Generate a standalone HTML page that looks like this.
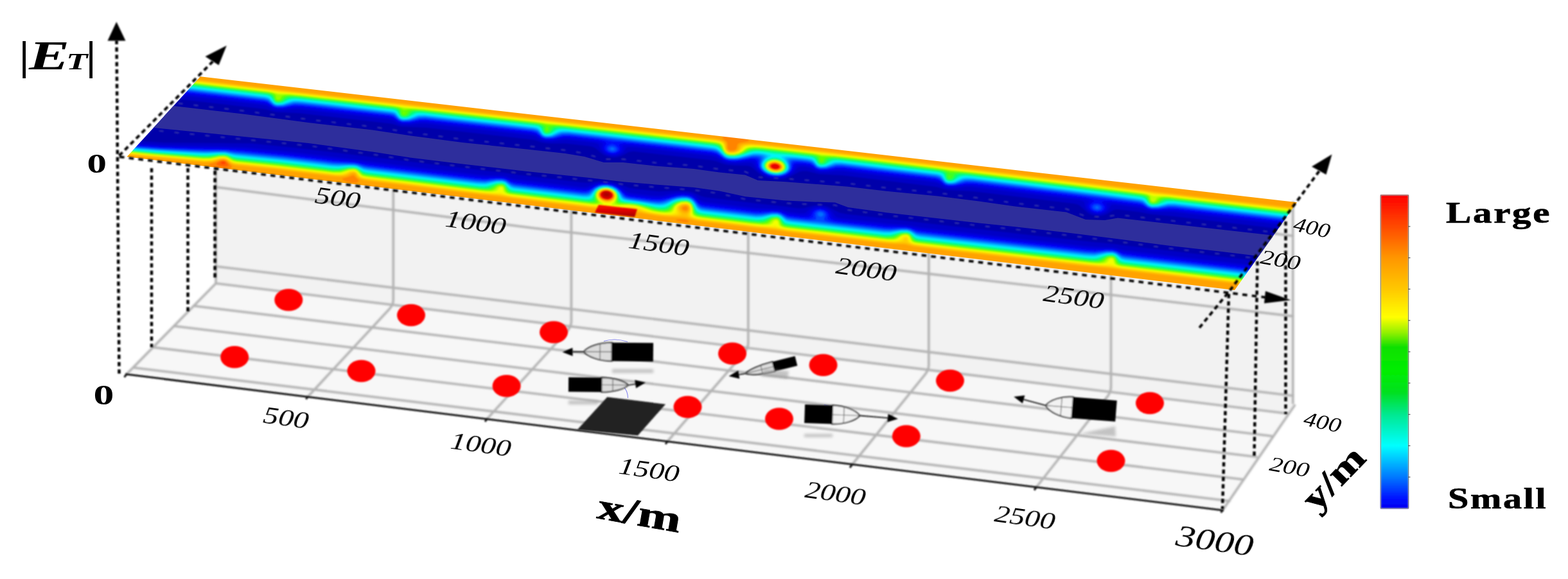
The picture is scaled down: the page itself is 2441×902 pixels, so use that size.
<!DOCTYPE html>
<html lang="en"><head><meta charset="utf-8"><title>ET field map</title>
<style>html,body{margin:0;padding:0;background:#fff;}body{width:2441px;height:902px;overflow:hidden;}svg{display:block;}
text{font-family:"Liberation Serif","DejaVu Serif",serif;fill:#000;}
.ti{font-style:italic;}.tb{font-weight:bold;}
</style></head><body>
<svg width="2441" height="902" viewBox="0 0 2441 902" role="img">
<defs>
<clipPath id="hmclip"><polygon points="312,119.2 2019,315.3 1922,452 197.5,244.3"/></clipPath>
<filter id="hmblur" x="-2%" y="-5%" width="104%" height="110%"><feGaussianBlur stdDeviation="1.3"/></filter>
<filter id="soft" x="-5%" y="-5%" width="110%" height="110%"><feGaussianBlur stdDeviation="0.8"/></filter>
<filter id="soft0" x="-5%" y="-5%" width="110%" height="110%"><feGaussianBlur stdDeviation="0.55"/></filter>
<filter id="soft1" x="-5%" y="-5%" width="110%" height="110%"><feGaussianBlur stdDeviation="1.4"/></filter>
<filter id="soft2" x="-20%" y="-50%" width="140%" height="200%"><feGaussianBlur stdDeviation="2"/></filter>
<linearGradient id="cbar" x1="0" y1="0" x2="0" y2="1">
<stop offset="0" stop-color="#ff0000"/>
<stop offset="0.1" stop-color="#ff4a00"/>
<stop offset="0.2" stop-color="#ff9600"/>
<stop offset="0.3" stop-color="#ffc800"/>
<stop offset="0.39" stop-color="#ffff00"/>
<stop offset="0.44" stop-color="#90f000"/>
<stop offset="0.485" stop-color="#10e000"/>
<stop offset="0.56" stop-color="#00ee00"/>
<stop offset="0.63" stop-color="#00e020"/>
<stop offset="0.7" stop-color="#00e890"/>
<stop offset="0.8" stop-color="#00ffff"/>
<stop offset="0.9" stop-color="#0078ff"/>
<stop offset="0.97" stop-color="#0010ff"/>
<stop offset="1" stop-color="#0000f0"/>
</linearGradient>
<linearGradient id="redg" x1="0" y1="0" x2="0" y2="1"><stop offset="0" stop-color="#ff1800"/><stop offset="0.45" stop-color="#e00000"/><stop offset="1" stop-color="#a00000"/></linearGradient>
</defs>
<rect width="2441" height="902" fill="#ffffff"/>
<g id="walls">
<polygon points="336,255 2013.5,314 2013.5,631 2004.9,644.2 336,441.5" fill="#f2f2f2"/>
<polygon points="196.5,583.6 336,441.5 2004.9,644.2 2015.4,631.4 1903.6,794.5" fill="#f7f7f7"/>
<g fill="none" stroke="#b2b2b2" stroke-width="3.6" stroke-linecap="round" stroke-linejoin="round" filter="url(#soft1)">
<path d="M336 291.5L460 307.5L832 355.5L1800 467.5L2012.8 492.6"/>
<path d="M336 415L2012.8 616.5"/>
<path d="M1985 364L2012.8 367.5"/>
<path d="M336 262L336 441.5"/>
<path d="M2012.8 315L2012.8 628"/>
<path d="M209.8 573L1914.1 780.5"/>
<path d="M239.8 541.3L1933.9 746.7"/>
<path d="M271.4 508L1956 711.8"/>
<path d="M301.3 476.5L1979.3 679.2"/>
<path d="M336.2 441.5L2004.9 644.2"/>
<path d="M196.5 583.6L336 441.5"/>
<path d="M1903.6 794.5L2015.4 631.4"/>
<path d="M479.3 617.9L605.6 482.1Q612.3 475 612.3 467L612.3 289.3"/>
<path d="M758 652.9L882.8 515.9Q889.4 508.7 889.4 500.7L889.4 323.4"/>
<path d="M1039 687.8L1158.5 549.5Q1164.8 542.2 1164.8 534.2L1164.8 357.2"/>
<path d="M1326 724.5L1439.9 583.7Q1445.9 576.3 1445.9 568.3L1445.9 391.7"/>
<path d="M1613 759.5L1723.7 618.2Q1729.5 610.8 1729.5 602.8L1729.5 426.5"/>
</g>
<g filter="url(#soft)"><path d="M196.5 583.1L1903.6 795" stroke="#1a1a1a" stroke-width="3" fill="none" stroke-linecap="round"/>
<path d="M196.5 583.6l-3 4" stroke="#1a1a1a" stroke-width="3" fill="none"/>
<path d="M479.3 617.9l-3 4" stroke="#1a1a1a" stroke-width="3" fill="none"/>
<path d="M758 652.9l-3 4" stroke="#1a1a1a" stroke-width="3" fill="none"/>
<path d="M1039 687.8l-3 4" stroke="#1a1a1a" stroke-width="3" fill="none"/>
<path d="M1326 724.5l-3 4" stroke="#1a1a1a" stroke-width="3" fill="none"/>
<path d="M1613 759.5l-3 4" stroke="#1a1a1a" stroke-width="3" fill="none"/>
<path d="M1903.6 794.5l-3 4" stroke="#1a1a1a" stroke-width="3" fill="none"/>
</g>
</g>
<g id="heatmap">
<g clip-path="url(#hmclip)"><g filter="url(#hmblur)">
<rect x="170" y="95" width="1870" height="385" fill="#0000aa"/>
<path fill="#0000c6" fill-rule="evenodd" d="M180 105L2030 105L2030 360.8L1827.6 337L1792 333.8L1774 330.3L1743 326.4L1738 326.3L1734 327.1L1723 333.2L1717 335.5L1712 336.3L1706 336.2L1699 334.4L1694 331.9L1680 319.6L1676 318.1L1671 317.1L1513 297.7L1475 295.9L1469 294.6L1460 291.5L1454 290.4L1311 272.9L1276 271.3L1256 266.6L1250 266.4L1245 267.2L1229 275.6L1221 278.4L1213 279.5L1205 279.2L1196 277.5L1187 273.8L1181 269.8L1171 260.9L1167 258.8L1162 258L1144 257.7L1132 256.7L1126 255.2L1114 250.8L1106 249.3L986 235.7L979 236.7L968 242.4L963 244.2L957 245.2L952 245.1L945 243.6L940 241.3L935.3 238L928 231.6L925 229.7L921 228.3L915 227.3L881 223.6L858 223.4L849 222.8L843 221.7L833 218.3L826 217.1L664 198.8L627 197.2L621 196.2L611 193.1L604 192L466 176.2L430 174.4L425 173.5L415 170.6L409 169.6L180 142.8ZM180 215.6L183 215.8L220 220.1L255 222.2L392 223.5L461 230.4L747 265.1L783 268.8L803 271.9L905 284.2L915 284.7L934 282.3L946 282.4L959 285.2L979 292.6L993 294.8L1025 298.2L1056 297.2L1071 298.1L1078 299.6L1092 305.8L1099 307.5L1180 317.2L1211 320.4L1242 324.6L1251 324.5L1263 321.2L1269 320L1279 320L1284 320.8L1290 322.8L1307 331.4L1317 333.4L1610 366.9L1701.4 377L1734 380.1L1751 382.5L2030 414.8L2030 470L180 470Z"/>
<path fill="#0002d9" fill-rule="evenodd" d="M180 105L2030 105L2030 354.2L1832.4 331L1819 329.9L1801 330.3L1792 329.8L1787 328.7L1779 325.1L1775 323.9L1736 319L1732 319.1L1729.1 320L1725.4 327L1723.5 329L1720 331.3L1713 333.6L1706 333.6L1699 331.6L1694 328.3L1691.7 326L1689.8 323L1688 314.9L1685.1 313L1680 311.8L1513 291.3L1504 291L1486 293.2L1476 292.9L1470 291.3L1460 285.2L1454.6 284L1313 266.8L1303 266.4L1286 268.2L1276 267.9L1270 266.2L1261 261.3L1254 260L1247 259.6L1243 260.4L1241 261.8L1236.8 267L1233.4 270L1228 273.4L1223 275.5L1213 277.4L1203 276.9L1194 274.6L1186 270.5L1179.5 265L1173 255.9L1170 253.7L1165 253.2L1146 254.6L1133 253.8L1126 251.7L1114.8 245L1106.3 243L993.4 230L980 228.9L977 229.2L975 230L970.2 237L965 240.6L959 242.4L952 242.6L946 241.2L940.1 238L935.3 233L932.1 225L929 223.3L922.8 222L882 217.7L875 217.9L860 220L849 219.8L843 218.3L833 212.3L826.8 211L666 192.9L655 192.4L637 194.3L627 194.1L621 192.7L612 187.6L605.7 186L466 170.2L456.4 170L440 171.5L431 171.2L424 169.5L415.9 165L409 163.5L180 136.7ZM180 219.5L182 219.6L217 223.7L251.2 226L350 228.2L381 229.4L394 230.6L453 236.4L554 248.3L572.4 251L744.7 272L757 273.1L782 273.7L787 274.6L797 278L802.2 279L905 291.3L911 291.6L914.9 291L926 286.6L933 284.9L939 284.3L946 284.6L954 286.1L961 288.7L966 291.3L974 297.1L978 299.3L984 300.8L992.8 302L1015 304.5L1025 305.1L1032 304.4L1045 301.7L1053 300.6L1062 300.3L1070 300.8L1075 301.8L1079 303.3L1083.2 306L1090.3 312L1093 313.4L1097 314.4L1176 324L1211 325.6L1216 326.6L1226.8 330L1245 332.2L1251 332.3L1254 331.6L1261 326L1267 323.3L1273 322.2L1279 322.4L1286 324.1L1291.8 327L1295.3 330L1299.8 336L1302 337.7L1305.6 339L1311.3 340L1380.8 348L1413 350.3L1432.8 354L1688.5 383L1707 384.6L1733 385.4L1738 386.4L1746.4 389L1752.2 390L2030 422.4L2030 470L180 470Z"/>
<path fill="#0006ea" fill-rule="evenodd" d="M180 105L2030 105L2030 351.4L1830 328L1819 327.3L1801 328.2L1793 327.9L1788 326.8L1779 322.4L1774.3 321L1732 315.7L1726 315.8L1722.6 317L1722.3 318L1722.9 322L1722.6 325L1721.5 327L1719 329.3L1713 331.7L1707 331.9L1703 331.1L1699 329.4L1696 327.2L1694.1 325L1692.9 321L1693.4 318L1695 315L1694.7 313L1690.9 311L1684 309.5L1514 288.6L1504 288.4L1486 291.1L1477 291.1L1471 289.6L1461 282.8L1455 281.3L1312.4 264L1303 263.7L1286 266.1L1277 266.1L1271 264.5L1261 258.6L1251 256.9L1243 256.7L1239 257.8L1237.8 259L1235.1 265L1232.7 268L1228.9 271L1224 273.5L1215 275.8L1204 275.7L1198 274.5L1193 272.7L1185 267.9L1179.6 262L1177.6 258L1176.2 253L1174 250.9L1168 250L1145 252.6L1133 251.8L1126 249.3L1115 242.3L1107 240.4L990.7 227L976 225.8L972 226.1L969.6 227L968.9 228L968.5 233L967.7 235L964 238.6L958 240.7L952 240.8L945 238.7L940.1 235L938 231L938.6 225L937.7 223L933.2 221L926 219.7L882 215L875 215.3L859 218.1L850 218.1L844 216.6L834 209.9L827 208.3L664 190L654 189.8L637 192.2L627 192.2L621 190.6L612 184.9L605 183.3L467 167.6L458 167.4L440 169.5L431 169.3L425 167.7L416 162.4L410 160.9L180 134ZM180 221.5L182 221.6L214 225.4L251 228L315 230L348 230.4L380 232.2L445 238.5L524.3 248L553 250.7L573.1 254L745.5 275L757 275.8L775 275.6L783 276.1L788 277.3L797 280.8L802.7 282L905 294.3L911 294.5L915 294L927 288.3L933 286.5L939 285.7L945 285.9L953 287.3L959 289.5L965 293L974.7 301L979 302.7L984 303.7L1013 307.3L1026 308L1035 307L1048 303.7L1054 302.8L1062 302.3L1070 302.7L1074 303.5L1078 305.1L1082 307.9L1089 314.5L1092 316.1L1096 317.2L1176.6 327L1210 327.8L1215 328.7L1227 333L1246 335.4L1253 335.7L1257 335L1259.9 333L1263.4 328L1266.3 326L1272 324.2L1279 324.2L1285 325.7L1290.4 329L1292.9 332L1295.4 338L1297.8 340L1302 341.5L1309 342.7L1381 350.9L1412 352.5L1433 357L1688.6 386L1705 387.4L1732 387.6L1737 388.5L1747 392L1753 393.1L2030 425.4L2030 470L180 470Z"/>
<path fill="#0009fc" fill-rule="evenodd" d="M180 105L2030 105L2030 349.3L1831 326L1820 325.4L1802 326.7L1793 326.5L1788 325.3L1779 320.3L1775 319L1727 313L1719.3 313L1715.5 314L1715.2 315L1718.8 320L1719.7 322L1719.8 324L1719.1 326L1717.3 328L1714 329.7L1711 330.3L1707 330.4L1703 329.4L1700 328L1697.6 326L1695.9 323L1695.8 321L1696.5 319L1698.2 317L1702.3 314L1702.9 313L1702.4 312L1698 310L1688.9 308L1514 286.5L1504 286.4L1486 289.6L1476 289.6L1473 288.9L1470 287.5L1462 281.1L1456 279.3L1313 261.9L1303 261.7L1286 264.6L1277 264.7L1271 262.8L1264 257.9L1261 256.4L1249 254.6L1241 254.4L1237 255.5L1235 258L1233.8 263L1232.2 266L1229 269.3L1224 272.2L1215 274.8L1210 275.1L1204 274.7L1198 273.4L1193 271.6L1189 269.4L1184.7 266L1182.1 263L1180.4 260L1178.8 251L1178 249.9L1176 248.6L1173 248L1168.8 248L1146 251L1134 250.5L1127 248.1L1115 240.2L1107 238.3L985 224.3L971 223.3L966 223.9L964.1 225L963.8 226L965.4 231L965.4 233L964.7 235L963 236.8L958 239.1L952 239.3L948 238.3L945.3 237L942.8 235L941.4 233L940.8 230L941.4 228L943.9 224L943.4 222L939.5 220L929.6 218L895.5 214L882 212.9L875 213.4L859 216.6L850 216.7L844 215L834 207.8L827 206.3L664.4 188L655 187.8L637 190.7L627 190.8L621 189L612 182.8L605 181.2L467 165.6L458 165.5L441 167.9L431 167.9L425 166.1L416 160.3L410 158.9L180 132ZM180 223L215 226.9L249 229.4L316 231.8L352 232.3L381 234.5L444 240.7L521.8 250L553 252.4L572 256.2L742.6 277L755 277.9L773 277.1L782 277.4L787 278.5L796 282.7L802 284.2L905 296.6L911 296.8L915 296.2L919 294.5L927 289.8L933 287.7L939 286.8L945 286.9L953 288.4L959 290.8L964 294L974 303L978 304.7L983 305.8L1013 309.6L1025 310.3L1035 309.1L1054 304.4L1062 303.8L1070 304.2L1074 305L1078 306.9L1089 316.9L1092 318.5L1096 319.6L1176 329.3L1184 329.6L1201 328.9L1210 329.3L1216 330.6L1227 335.3L1248 338L1255 338.3L1260 337.5L1262.2 336L1265.2 330L1268 327.5L1273 325.8L1279 325.7L1284 327.2L1288.3 330L1290.3 333L1291.7 339L1294 341.5L1299 343.5L1307 344.9L1379 353.1L1413 354.1L1418 355.2L1427 358.3L1434 359.5L1691 388.6L1705 389.6L1723 388.8L1732 389.1L1738 390.4L1747 394.3L1753 395.5L2030 427.9L2030 470L180 470Z"/>
<path fill="#0028ff" fill-rule="evenodd" d="M180 105L2030 105L2030 347.4L1829.7 324L1820 323.6L1803 325.5L1793 325.4L1787 323.7L1778 318.1L1772 316.6L1731 311.4L1710 309.5L1673.3 304L1517.7 285L1505 284.5L1487 288.3L1477 288.6L1471 286.8L1462 279.2L1456 277.5L1312 260.1L1303 260L1286 263.4L1277 263.5L1271 261.6L1264 256L1261 254.6L1247 252.6L1239 252.4L1235 253.5L1233.2 256L1232.3 262L1231.1 265L1228.7 268L1224 271.2L1220 272.8L1215 273.9L1210 274.3L1204 273.9L1198 272.6L1193 270.6L1188.7 268L1185.2 265L1182.9 262L1181.6 259L1181 249.3L1180 247.9L1178 246.8L1171 246.1L1149 249.5L1142 249.9L1135 249.5L1128 247.3L1116 238.8L1108 236.6L980.5 222L967.9 221L955 221.2L935.6 217L888 211.5L877 211.4L860 215.2L850 215.6L844 213.7L835 206.4L828 204.6L664 186.2L655 186.1L637 189.5L627 189.7L621 187.7L612 181L606 179.6L467 163.9L458 163.8L441 166.7L431 166.8L425 164.9L416 158.5L410 157.1L180 130.3ZM180 224.2L182 224.3L214 228L250 230.6L316 233.3L351 233.6L364 235.3L380 236.3L443 242.5L522.3 252L552 253.7L572 258.2L742.7 279L755 279.8L773 278.3L782 278.6L787 279.7L796 284.6L802 286.2L906 298.7L912 298.8L916 297.8L927 291.1L933 288.7L939 287.7L946 287.8L953 289.3L959 291.9L964 295.4L973 304.5L976 306L981 307.3L1013 311.5L1025 312.3L1033 311.4L1055 305.7L1062 305.1L1070 305.4L1074 306.3L1077 307.7L1080.1 310L1089 319.1L1092 320.6L1096 321.6L1176 331.3L1185 331.5L1202 330.1L1210 330.4L1215 331.5L1223 335.8L1227 337.3L1250 340.3L1258 340.7L1263.1 340L1265.6 338L1267.1 332L1269 329.3L1273 327.4L1278 327.1L1283 328.5L1286.5 331L1287.9 334L1288.3 341L1290 343L1295.1 345L1303 346.4L1378 355L1387 355.4L1403 354.8L1412 355.2L1418 356.5L1427 360.3L1434 361.5L1691 390.7L1704 391.5L1722 390.1L1732 390.3L1738 391.8L1747 396.3L1753 397.6L2030 430L2030 470L180 470ZM949.4 225L954 224.2L956 224.7L959 226.5L961.5 229L962.6 231L962.7 233L961.8 235L959 237.1L954 238L949 237.1L945.5 235L943.9 233L943.6 230L945.8 227ZM1703.8 317L1709 316.7L1714 318.7L1716.8 322L1717.1 324L1716.3 326L1713.6 328L1709 329L1705 328.5L1701 326.6L1698.8 324L1698.6 321L1700 318.9Z"/>
<path fill="#004cff" fill-rule="evenodd" d="M180 105L2030 105L2030 345.8L1830 322.5L1820 322.1L1803 324.5L1793 324.5L1787 322.6L1778 316.4L1771.9 315L1662 301L1516 283.3L1504 282.9L1487 287.2L1477 287.7L1474 287.1L1471 285.6L1463 278L1457 276.1L1311 258.5L1302 258.5L1286 262.3L1277 262.6L1274 261.9L1271 260.4L1265 255.1L1262 253.3L1257 252.2L1246 250.9L1237 250.6L1234.3 251L1232.5 252L1231.5 254L1231.1 261L1230.2 264L1228 267.2L1224 270.2L1220 271.9L1215 273.2L1210 273.6L1205 273.3L1200 272.4L1195 270.7L1190.1 268L1186.5 265L1184.2 262L1182.6 258L1183.5 249L1183 247L1181 245.4L1178 244.6L1170 244.7L1148 248.6L1136 248.6L1132 247.8L1128 246.2L1118 238.4L1115 236.8L1110 235.4L1098.9 234L985.3 221L955 218.2L932.5 215L887 209.9L876 209.9L860 214.2L850 214.6L847 214L844 212.6L835.6 205L829 203.3L663 184.7L654 184.7L637 188.5L627 188.8L624 188.1L621 186.6L613 179.8L608 178.4L473 162.9L459 162.2L441 165.7L431 165.9L428 165.2L425 163.8L417 157.4L411 155.8L180 128.8ZM180 225.2L182 225.3L213 228.9L250 231.7L316 234.7L351 234.8L365 236.8L378 237.7L446 244.5L520 253.4L551 254.8L557 255.8L567 259L573.3 260L743 280.7L755 281.4L773 279.4L782 279.5L788 281.3L796 286.3L802 287.9L906 300.4L912 300.6L916 299.7L927 292.1L933 289.5L939 288.4L946 288.5L953 290.1L959 292.8L964.3 297L972 305.7L975 307.4L980 308.6L1014 313.2L1026 314L1033.5 313L1048 308.4L1055 306.8L1062 306.1L1070 306.4L1074 307.4L1077 308.9L1080.7 312L1088 320.3L1091 322.1L1095 323.2L1176 332.9L1185 333.1L1202 331.2L1210 331.4L1215 332.7L1223 337.5L1227 339L1252 342.2L1263 342.8L1269.2 342L1270.6 341L1270.7 340L1269.6 334L1270.6 331L1273.9 329L1278 328.7L1282.1 330L1285 333L1285 336L1282.8 341L1283 343L1286 344.7L1290.1 346L1301.8 348L1379 356.7L1388 357L1404 355.9L1412 356.3L1417 357.3L1427 361.9L1433 363.1L1690 392.3L1704 393.2L1722 391.2L1732 391.3L1738 392.9L1746.9 398L1752 399.1L2030 431.7L2030 470L180 470ZM949 228L953 227.3L957 228.4L959.7 231L960 233L959.5 234L958 235.4L955 236.3L952 236.2L948.6 235L946.6 233L946.2 231L947 229.4ZM1705 319L1709 319L1712 320.1L1714 322.3L1713.9 325L1712 326.6L1709 327.3L1706 327.1L1703.4 326L1701.5 324L1701.2 322L1702.7 320Z"/>
<path fill="#0070ff" fill-rule="evenodd" d="M180 105L2030 105L2030 344.4L1829.1 321L1819 320.8L1803 323.6L1793 323.7L1787 321.6L1779 315.4L1773 313.8L1657 299L1517 282L1509 281.4L1503 281.6L1487 286.2L1482 286.9L1477 286.8L1474 286.2L1471 284.6L1465 277.9L1463 276.4L1457 274.7L1311 257.1L1302 257.1L1286 261.4L1277 261.7L1272 260L1265 253.5L1262 251.9L1257 250.8L1243 249.3L1234 249L1231 249.8L1230 250.6L1229.4 252L1229.9 260L1229.4 263L1227.8 266L1224 269.3L1220 271.2L1215 272.5L1205 272.7L1199 271.5L1194 269.5L1190 267L1186.7 264L1184.7 261L1183.7 257L1185.8 248L1185.7 246L1184 244.3L1180 243.2L1175 242.9L1170 243.3L1156 246.4L1148 247.7L1136 247.7L1132 246.9L1128 245.2L1119 237.7L1115 235.4L1110 234.1L1101.9 233L886 208.5L875 208.6L860 213.2L855 213.8L850 213.8L847 213.1L844 211.6L838 205.1L836 203.7L829.7 202L663 183.3L653 183.4L637 187.6L627 187.9L624 187.2L621 185.5L614 178.9L608 177L471 161.4L458 161L441 164.8L431 165.1L428 164.4L425.3 163L417 156L411 154.5L180 127.5ZM180 226.2L182 226.3L212 229.8L251 232.7L316 235.8L350 235.7L365 238.2L443 245.6L519 254.7L551 255.8L556 256.6L566 260.1L572 261.3L742 282.1L755 282.8L773 280.4L782 280.4L787 281.8L795 287.3L801 289.2L907 302L913 302.1L917 301L926 293.8L933 290.3L939 289L946 289.1L953 290.7L959.5 294L964.1 298L970.2 306L974 308.4L981 310L1015 314.7L1024 315.5L1031 315.1L1053 308.2L1061 307.1L1069 307.2L1074 308.4L1078 310.8L1081.3 314L1086 320.1L1089 322.7L1093 324.3L1100 325.5L1177 334.5L1186 334.4L1202 332.2L1210 332.3L1215.6 334L1225 339.9L1233 341.5L1257 344.3L1276 345.3L1300 349.3L1376 358L1386 358.4L1403 357L1412 357.2L1417 358.4L1427 363.4L1433 364.6L1689 393.7L1704 394.6L1723 392.1L1732 392.2L1737 393.5L1746 399.1L1752 400.7L2030 433.3L2030 470L180 470ZM951.9 230L954 230.1L955.7 231L956.3 232L956.2 233L954 234.1L951 233.5L949.8 232L950 231.2ZM1705.6 322L1707 321.5L1709 321.8L1710.3 323L1710.2 324L1708 325L1706 324.4L1705 323ZM1275.2 331L1278 330.8L1280.9 332L1281.9 334L1281 336.1L1278 337.6L1275 336.8L1273.5 335L1273.2 333L1273.7 332Z"/>
<path fill="#0093ff" fill-rule="evenodd" d="M180 105L2030 105L2030 343.1L1829 319.7L1819 319.6L1803 322.8L1793 322.9L1787.5 321L1779 314.1L1773 312.5L1659.4 298L1516 280.6L1508 280L1502 280.3L1498 281.3L1487 285.3L1482 286.1L1477 286L1474 285.3L1471 283.6L1464 275.5L1458 273.6L1310 255.7L1301 255.9L1286 260.5L1281 261.1L1277 260.9L1271.9 259L1266 252.8L1263 250.9L1257 249.5L1241 247.8L1232 247.5L1229.2 248L1227.5 249L1227.1 251L1228.7 258L1228.7 262L1227.4 265L1224 268.4L1220 270.5L1216 271.7L1211 272.4L1205 272.1L1199 270.8L1194 268.8L1189.8 266L1186.9 263L1185.3 260L1184.8 256L1185.5 253L1188.3 247L1188.6 245L1186.2 243L1182.5 242L1177 241.5L1172 241.8L1150 246.6L1143 247.2L1136 246.9L1132 246.1L1128 244.3L1119 236.4L1116 234.5L1112 233.2L1104 232L885 207.1L875 207.3L871 208.2L860 212.3L855 213L850 213L847 212.3L844 210.6L837 202.8L834 201.6L830 200.8L662 182L652 182.2L637 186.7L628 187.2L623 185.9L620.4 184L615 178.2L612 176.6L609 175.9L471 160.2L463 159.6L457 159.8L441 163.9L436 164.5L431 164.3L428 163.6L425.3 162L418 155.2L412 153.4L180 126.3ZM180 227.1L181 227.1L210 230.5L241.3 233L296 236L320 237L350 236.6L366 239.5L442 246.8L518 256L528 256.6L551 256.7L557 257.9L567 261.7L573 262.8L742 283.5L755 284.1L773 281.3L782 281.3L787.4 283L796 289.2L801 290.6L907 303.5L913 303.6L917 302.7L919.5 301L926 294.7L933 290.9L939 289.6L946 289.7L953 291.3L959 294.4L963.9 299L969.4 307L973 309.3L979 310.7L1016 316.1L1025 316.9L1031 316.5L1036 315.3L1046 311.3L1053 309.2L1061 308L1069 308.1L1074 309.3L1078 311.8L1081.1 315L1086 321.9L1088.5 324L1092 325.5L1099 326.7L1177 335.9L1186 335.6L1202 333.1L1210 333.1L1215 334.6L1224 340.9L1227 342L1233 342.9L1276 347.4L1302.1 351L1376 359.4L1386 359.7L1403 357.9L1412 358L1417 359.3L1427 364.8L1433 366.1L1688 395.1L1704 396L1723 393.1L1732 393L1737 394.5L1746 400.6L1752 402.1L2030 434.7L2030 470L180 470Z"/>
<path fill="#00b6ff" fill-rule="evenodd" d="M180 105L2030 105L2030 341.9L1829 318.4L1819 318.3L1802 322.1L1793 322.2L1790 321.4L1787.4 320L1780 313.3L1777 312L1773 311.2L1661.5 297L1515 279.2L1507 278.7L1501 279.1L1497 280.2L1487 284.4L1482 285.3L1477 285.2L1474 284.5L1471.5 283L1465 274.7L1462 273.2L1458 272.3L1310 254.5L1300 254.8L1286 259.6L1281 260.3L1277 260.1L1274 259.3L1272 258.1L1266 251.3L1263 249.6L1257 248.3L1239 246.3L1230 246L1227 246.4L1225 247.3L1224.5 249L1227.2 256L1227.8 261L1226.4 265L1223.3 268L1220 269.8L1215 271.3L1210 271.9L1205 271.6L1200 270.6L1195 268.7L1190.8 266L1187.8 263L1185.9 259L1186 255L1187.6 251L1191.1 246L1191.6 244L1189 242L1184 240.8L1173 240.5L1150 245.8L1143 246.5L1136 246.2L1132 245.4L1128 243.5L1119 235.1L1116 233.2L1112 231.9L1104 230.8L885 205.9L874 206.1L870 207.2L859 211.6L854 212.3L850 212.2L847 211.5L844.5 210L839 203L837 201.4L830 199.6L662 180.8L652 181L637 185.8L628 186.5L625 185.9L622 184.4L615 176.8L609 174.7L471 159L463 158.4L457 158.6L452 159.6L440 163.3L431 163.6L426 161.6L418.3 154L412 152.2L180 125.1ZM180 228L218.3 232L277.9 236L318 238L350 237.5L366 240.7L442 248.2L517 257.2L527 257.8L543 257.2L551 257.5L556 258.4L566 262.7L572 264L742 284.8L755 285.4L773 282.1L782 282.1L787 283.7L796 290.6L800.9 292L908 304.9L914 305L918 303.8L920 302.3L926 295.7L929 293.5L933 291.5L939 290.1L946 290.2L953 291.9L959 295.2L963.8 300L968.7 308L972 310.1L977 311.4L1018 317.5L1026 318.2L1032 317.7L1037 316.4L1047 312L1054 309.8L1062 308.7L1069 308.8L1074 310.1L1078 312.8L1080.9 316L1085 322.4L1088 325.2L1092 326.9L1098.1 328L1177 337.2L1186 336.9L1202 333.9L1210 333.9L1215 335.5L1224 342.3L1232 344.2L1376 360.8L1385 361L1403 358.7L1412 358.8L1417 360.2L1426 365.7L1433 367.4L1689 396.6L1704 397.3L1723 393.9L1732 393.8L1737 395.4L1746 402L1752 403.5L2030 436.2L2030 470L180 470Z"/>
<path fill="#00d8ff" fill-rule="evenodd" d="M180 105L2030 105L2030 340.6L1828 317.1L1818 317.2L1802 321.3L1793 321.5L1788 319.5L1780 311.9L1773.3 310L1663.3 296L1514.8 278L1507 277.4L1501 277.7L1497 278.7L1486 283.7L1481 284.6L1477 284.5L1474 283.7L1471.6 282L1467 275.1L1465 273.2L1459 271.2L1309 253.2L1299 253.6L1286 258.7L1278 259.5L1275 258.9L1273 257.9L1271 256L1267 250.7L1263 248.3L1257 247.1L1237 244.9L1226 244.6L1223.1 245L1221.4 246L1221.5 248L1225.4 254L1226.8 258L1226.8 262L1225.4 265L1222 268.1L1217 270.3L1211 271.4L1205 271.1L1200 270.1L1195 268.1L1190.5 265L1188 262L1186.6 258L1187.2 254L1190 249.4L1194.6 245L1195.2 243L1192 241L1187 239.8L1180 239L1173 239.3L1167 240.4L1150 245.1L1143 245.8L1136 245.6L1132 244.7L1128 242.7L1120 234.7L1116 232L1112 230.7L1104 229.6L884 204.6L878 204.4L873 204.9L869 206.1L859 210.7L854 211.5L850 211.5L847 210.7L844.5 209L840 202.4L838 200.6L835 199.3L831 198.5L661 179.5L651 179.8L636.8 185L632 185.8L628 185.8L623 184.2L620.6 182L616 176.1L614 174.8L610 173.7L470 157.7L462 157.2L456 157.4L440 162.5L435 163.1L431 162.9L428 162L426 160.7L419 153.1L413 151.1L180 124ZM180 229L243 234.8L307 238.6L322 239.1L341 238.1L350 238.2L367 242.1L441 249.4L516 258.4L526 259L543 258L551 258.3L556 259.2L566 263.9L572 265.3L742 286.1L755 286.7L773 283L782 282.8L787 284.6L795 291.5L800 293.2L908 306.3L914 306.4L918 305.5L921 303L926.6 296L933 292.1L939 290.6L946 290.6L953 292.4L959.2 296L963.7 301L967.2 308L969 309.8L971 310.9L975.4 312L995 314.6L1020 319L1027 319.5L1033 318.9L1038 317.3L1047 313L1053 310.9L1061 309.5L1069 309.5L1073 310.4L1077.2 313L1080.7 317L1085 324L1088 326.7L1092 328.3L1098 329.3L1177 338.6L1186 338.2L1202 334.7L1210 334.7L1215 336.4L1224 343.7L1232 345.5L1376 362.1L1385 362.2L1403 359.5L1412 359.5L1417 361L1426 367.1L1433 368.8L1689.8 398L1699 398.7L1705 398.6L1723 394.7L1732 394.6L1737 396.3L1746 403.4L1752 404.9L2030 437.6L2030 470L180 470Z"/>
<path fill="#00f6f8" fill-rule="evenodd" d="M180 105L2030 105L2030 339.4L1828 315.9L1818 315.9L1803 320.3L1794 320.9L1791 320.3L1788 318.6L1780.8 311L1778 309.7L1774 308.9L1664.8 295L1513 276.6L1505 276.1L1499 276.6L1496 277.6L1485.3 283L1481 283.8L1477 283.7L1474 282.8L1472 281.3L1468 274.5L1466 272.3L1463.4 271L1460 270.2L1308 251.9L1302 251.9L1298 252.5L1286 257.8L1282 258.7L1278 258.8L1275 258.1L1273 256.9L1267 249.1L1264 247.3L1257.7 246L1234 243.4L1222.2 243L1216.8 244L1216.5 245L1217.1 246L1222 250.9L1224.8 255L1226.1 259L1225.7 263L1222.6 267L1218 269.5L1212 270.8L1205 270.7L1200 269.6L1195 267.5L1191 264.7L1188.2 261L1187.3 257L1189.2 252L1192 248.8L1200.3 243L1200 242L1198.3 241L1189 238.7L1180 237.8L1173 238.1L1167 239.3L1150 244.4L1143 245.2L1136 244.9L1132 244.1L1128.1 242L1120 233.4L1117 231.2L1112 229.6L1104 228.4L883 203.4L877 203.2L872 203.7L868 205.1L858.2 210L854 210.8L850 210.7L847 209.8L845 208.4L841 202L839 199.8L836 198.3L832 197.5L660 178.3L650 178.7L637 184L632.4 185L628 185.1L625 184.4L623 183.3L616.5 175L614 173.5L611 172.7L469 156.5L461 156L455 156.3L451 157.4L440 161.6L435 162.3L431 162.2L428 161.2L426.3 160L419.4 152L417 150.9L413 150L180 122.9ZM180 229.5L182 229.6L209 232.8L243 235.6L310 239.8L323 240.1L341 238.8L350 239L354 239.6L362 242.2L367 243.2L440 250.5L515 259.6L526 260.2L543 258.8L551 259L556 260L566 265.2L572 266.6L746 287.8L757 287.8L772 283.9L781 283.4L786 284.8L794 292.3L797 293.8L800 294.5L909 307.7L915 307.8L919 306.7L921 305L926.5 297L929 294.9L933 292.6L939 291.1L946 291.1L953 292.9L959 296.5L962.9 301L966.6 309L970 311.6L975 312.8L996 315.6L1021 320.3L1028 320.8L1033 320.3L1038 318.7L1048 313.5L1053 311.7L1061 310.2L1069 310.2L1074 311.6L1077.4 314L1079.9 317L1084 324.3L1087 327.6L1091 329.4L1098 330.6L1177 339.9L1185 339.6L1200 335.8L1209 335.3L1212 335.9L1215 337.3L1223 344.7L1226 345.8L1231 346.7L1376 363.4L1385 363.5L1402 360.3L1412 360.2L1417.4 362L1426 368.4L1432 370L1690 399.4L1699 400.1L1705 399.9L1723 395.5L1732 395.3L1737 397.2L1745 404.3L1751 406.1L2030 438.9L2030 470L180 470Z"/>
<path fill="#00f8cc" fill-rule="evenodd" d="M180 105L2030 105L2030 338.3L1827 314.6L1817 314.8L1803 319.5L1798 320.3L1794 320.2L1791 319.6L1788.3 318L1783 311.4L1781 309.7L1775 307.9L1666 294L1512 275.4L1504 274.8L1498 275.3L1494 276.8L1485.3 282L1481 283L1477 283L1474 281.9L1472 280.1L1468.4 273L1467 271.4L1464.3 270L1460 269L1307 250.7L1301 250.7L1297 251.3L1285.3 257L1282 257.8L1278 258L1275 257.2L1273.2 256L1268 248.4L1266 246.9L1263 245.8L1232 242.1L1208 240.8L1186 237L1178 236.6L1172 237.1L1150 243.7L1143 244.6L1136 244.4L1132 243.5L1128 241.2L1121 233.2L1118 230.6L1114 228.9L1108 227.8L882 202.2L876 202L871 202.5L867 203.9L858.3 209L854 210L850 210L847 209L845 207.2L841.6 201L840 199L837 197.4L832 196.4L659 177.1L649 177.5L646 178.5L636 183.4L632 184.3L628 184.3L625 183.6L622.7 182L617 173.9L615 172.7L611 171.6L474.8 156L462 154.8L455 155L450 156.4L440 160.8L436 161.5L432 161.6L429 160.9L427 159.6L422 152.8L420.1 151L414 149L180 121.8ZM180 230.2L182 230.4L208 233.4L241 236.2L312 240.9L324 241L341 239.6L349 239.6L354 240.3L363 243.5L368 244.5L439 251.6L515 260.8L526 261.3L543 259.5L551 259.6L556 260.7L566 266.4L572 267.8L746 289.1L757 289.1L772 284.8L781 284.1L786 285.7L794 293.7L799 295.6L910 309L916 309.2L920 308L922 305.9L926.4 298L929 295.5L932 293.6L939 291.5L946 291.5L953 293.4L958.8 297L962.8 302L965.9 310L969 312.3L974 313.5L996 316.3L1022 321.6L1029 322L1034 321.5L1038 320.1L1048 314.5L1054 312.1L1061 310.8L1069 310.8L1074 312.3L1077.5 315L1079.7 318L1084 326.1L1086 328.4L1090 330.5L1097 331.8L1178 341.2L1187 340.6L1201 336.4L1209 336L1212 336.6L1214.7 338L1221 344.7L1223 346.1L1231 348L1377 364.8L1386 364.7L1402 361.1L1411 360.7L1414 361.2L1417 362.5L1426 369.8L1432 371.3L1691 400.7L1700 401.4L1706 401.2L1722 396.5L1731 395.9L1734 396.5L1737 398L1743 404.4L1745 405.8L1751 407.4L2030 440.2L2030 470L180 470ZM1202.6 245L1207 244.5L1212 245.5L1216 247.4L1221 251.2L1223.9 255L1225.3 259L1224.9 263L1222.8 266L1220 268L1216 269.6L1212 270.4L1207 270.5L1202 269.7L1198 268.4L1194 266.4L1191.1 264L1189.5 262L1188.2 259L1188.3 256L1189.5 253L1194 248.5L1198 246.4Z"/>
<path fill="#00fca1" fill-rule="evenodd" d="M180 105L2030 105L2030 337.2L1826 313.4L1816 313.6L1802 318.9L1794 319.6L1791 318.8L1788.2 317L1784 310.9L1782 308.9L1779 307.6L1775 306.8L1666.9 293L1511 274.1L1502 273.6L1496 274.2L1493 275.3L1485 281L1481 282.1L1477 282.2L1475 281.5L1473 280L1469.3 272L1468 270.5L1465.1 269L1460.6 268L1306 249.5L1300 249.5L1296 250L1293 251.2L1285.2 256L1281.7 257L1278 257.2L1275 256.3L1273.3 255L1268 246.7L1263 244.6L1235 241.2L1208 238.9L1187.2 236L1179 235.5L1172 235.9L1167 237.1L1156 241.3L1150 243L1143 244L1136 243.8L1132 242.8L1128.7 241L1125.7 238L1121 231.9L1118 229.3L1114.9 228L1109 226.8L881 201L874 200.8L869 201.4L866 202.6L858 208L854 209.1L850 209.2L848 208.6L845.9 207L842.4 200L840.8 198L838 196.5L833 195.5L658 175.9L652 175.8L647 176.6L636 182.4L632 183.5L628 183.6L625 182.7L623 181.2L617.8 173L615 171.4L612 170.7L475 155L462 153.7L454 153.9L449.7 155L439.6 160L436 160.8L432 160.8L429 160L427 158.6L422.7 152L421 150.2L418 148.8L414.1 148L180 120.7ZM180 231L207 234L241.4 237L311 241.7L323 242L341 240.3L350 240.3L355 241.4L364 244.9L369 245.8L438 252.7L518 262.3L527 262.4L542 260.4L551 260.3L557 261.9L566 267.6L572 269L746 290.3L753 290.7L758 290.3L772 285.6L777 284.8L781 284.8L784 285.5L786.6 287L793.7 295L799 296.8L911 310.4L918 310.4L921.6 309L923 307L926.4 299L929 296.2L932 294.2L939 291.9L946 291.9L953 293.8L959.2 298L962.6 303L965 310.6L968 313L973 314.1L995 316.9L1023 322.9L1030 323.3L1035 322.7L1039 321.1L1049 315L1053.7 313L1061 311.5L1069 311.4L1073 312.5L1077 315.3L1079.6 319L1083.3 327L1085.9 330L1090 331.8L1097 333L1179 342.5L1188 341.7L1201 337.2L1209 336.7L1212 337.3L1214.9 339L1220 345.3L1222 347L1225 348.2L1230 349.1L1377 366L1386 365.9L1402 361.8L1411 361.4L1414 361.9L1417 363.3L1425 370.6L1431 372.4L1691.2 402L1701 402.7L1707 402.4L1711 401.5L1722 397.4L1727 396.6L1731 396.6L1734 397.2L1737 398.9L1744 406.6L1750 408.5L2030 441.5L2030 470L180 470ZM1204.9 246L1210 246.4L1214 247.6L1218 249.8L1221.6 253L1223.6 256L1224.7 260L1224.1 263L1221.9 266L1219 267.9L1215 269.4L1211 270L1206 270L1202 269.3L1197 267.5L1194 265.8L1190.9 263L1189.6 261L1188.8 258L1189.3 255L1191.1 252L1194 249.4L1197 247.8L1201 246.5Z"/>
<path fill="#00fe75" fill-rule="evenodd" d="M180 105L2030 105L2030 336.1L1825 312.2L1815 312.5L1812 313.3L1802.2 318L1798 318.8L1794 318.9L1791 318.1L1789 316.7L1783 308.2L1780 306.7L1776 305.8L1667.4 292L1510 273L1500 272.3L1494 272.9L1491 274.2L1487.3 278L1484.5 280L1481 281.2L1477 281.2L1475 280.5L1473 278.5L1470.9 272L1469.6 270L1466 268L1461.2 267L1305 248.4L1299 248.3L1294 249L1291 250.4L1284.8 255L1281.9 256L1278 256.3L1276 255.8L1273.6 254L1269.2 246L1267 244.6L1264 243.7L1188.2 235L1179 234.4L1172 234.7L1167 235.9L1156 240.5L1150 242.4L1143 243.4L1136 243.3L1132 242.3L1128.4 240L1121 230.5L1119 228.7L1115 226.9L1109 225.8L879 199.8L872 199.6L867 200.3L864 201.6L857.5 207L854.8 208L851 208.4L848 207.6L846.2 206L843.4 199L841.7 197L839 195.6L834 194.6L657 174.8L651 174.7L646 175.3L643 176.5L638.3 180L635 181.7L631 182.7L628 182.8L625 181.8L623 180L620.2 174L618.6 172L616 170.6L613 169.8L473 153.7L460 152.6L452 152.9L448 154.1L439.6 159L436 159.9L432 160.1L429 159.2L427.5 158L423.4 151L422 149.5L419.1 148L415 147.1L180 119.7ZM180 232L182 231.8L207 234.7L242 237.8L313 242.8L324 242.9L341 241L350 241L355 242.1L363 245.6L369 246.9L437 253.7L518 263.4L527 263.5L542.8 261L551 260.9L556 262.1L565 268.3L571 270L747 291.6L754 291.9L759 291.5L773 286.2L781 285.5L784 286.2L786.7 288L791 294.1L793 296L798 297.8L912 311.7L919 311.7L921.8 311L923 310.1L926.6 300L928.9 297L932 294.7L938 292.5L946 292.2L953 294.2L958.5 298L962 303L964 311.1L965 312.5L967 313.7L972 314.8L994 317.4L1024 324.2L1031 324.6L1036 323.9L1040 322.2L1049 316L1054 313.7L1061 312.1L1069 312L1073 313.1L1077 316.2L1079.4 320L1083 328.6L1085 330.9L1089 332.8L1095.7 334L1167 342.7L1180 343.8L1188.4 343L1201.2 338L1209 337.4L1212 338.1L1214.9 340L1221 347.8L1224 349.2L1229 350.1L1378 367.2L1387 367L1402 362.6L1411 362L1414 362.6L1416.8 364L1423 370.6L1425 371.9L1431 373.5L1692 403.3L1702 404L1708 403.6L1712 402.6L1722.9 398L1731 397.3L1734.1 398L1737 399.9L1743 407.5L1746 408.9L1750 409.7L2030 442.7L2030 470L180 470ZM1208 247L1212 247.8L1216 249.5L1220 252.3L1222.3 255L1223.9 259L1223.8 262L1222 265.1L1219.7 267L1216 268.7L1208 269.7L1203 269.1L1199 267.9L1195.1 266L1192.5 264L1190.9 262L1189.6 259L1189.7 256L1190.6 254L1193 251.1L1196 249.1L1200 247.6Z"/>
<path fill="#1cff4c" fill-rule="evenodd" d="M180 105L2030 105L2030 335L1824 311.1L1818 310.9L1813 311.5L1810 312.6L1802.3 317L1798 318.1L1794 318.1L1791 317.2L1789 315.7L1785.4 309L1784 307.4L1781.4 306L1777 304.9L1667.7 291L1509 271.8L1498 271.1L1491 271.8L1488.6 273L1485.8 277L1483.5 279L1481 280L1478 280.3L1476 279.9L1473.9 278L1473.1 276L1472.2 271L1470.8 269L1467 267.1L1462 266.1L1330 250L1303 247.2L1297 247.1L1292 247.9L1289.7 249L1284 254L1281 255.1L1278 255.3L1276 254.7L1274.1 253L1271.8 247L1270.2 245L1265.7 243L1188.7 234L1178 233.3L1171 233.7L1166 235L1156 239.7L1150 241.7L1143 242.8L1136 242.7L1132 241.7L1129 239.8L1125.6 236L1121.7 230L1119 227.4L1115.6 226L1110 224.9L877 198.6L869 198.5L864 199.3L861.3 201L859 204L856.6 206L854 207.1L851 207.4L849 206.9L847 205.3L845.8 203L844.6 198L843 196.2L840 194.8L835 193.7L655 173.6L649 173.6L644 174.2L641 175.6L637.3 179L634 181L631 181.8L628 181.9L626 181.3L624 179.8L621.1 173L620 171.5L617.6 170L614 169L471 152.5L458 151.4L450 151.8L446 153.4L439 158.2L436 159.1L432 159.2L430 158.7L427.7 157L424.8 151L423 148.7L420 147.2L416 146.3L180 118.8ZM180 232.3L182 232.4L206 235.2L238 238.1L314 243.7L324 243.8L341 241.6L350 241.6L355 242.8L363 246.6L369 247.9L436 254.7L518 264.5L527 264.6L543 261.7L551 261.5L554 262.1L557 263.4L565 269.4L571 271.1L748 292.8L755 293.1L760 292.7L764 291.4L773 287.1L777 286.3L781 286.2L784 287L786 288.4L792 296.8L797 298.8L914 313L920.7 313L924 311.9L925.2 310L925.7 305L926.8 301L928.6 298L932 295.2L935 293.7L939 292.7L946 292.6L953 294.7L956 296.4L958.9 299L961.7 304L963.1 312L964 313.3L966 314.5L970 315.4L993.3 318L1025 325.5L1032 325.9L1037 325.2L1041 323.3L1049 317L1054 314.4L1061 312.7L1069 312.6L1073.5 314L1076.9 317L1079.2 321L1082 329L1084 331.7L1088 333.7L1095 335L1168 343.9L1181 345L1189 344.3L1200.8 339L1205 338.2L1209 338.1L1212 338.9L1214 340.2L1218.5 347L1220.6 349L1224 350.4L1229 351.3L1378 368.4L1388 368.1L1402 363.4L1407 362.6L1411 362.6L1414 363.2L1417 365L1422 371L1424 372.7L1427 373.9L1431 374.7L1693 404.5L1703 405.2L1709 404.9L1713 403.7L1722.5 399L1727 398L1731 398L1734 398.7L1736 400L1742 408.3L1745 409.8L1749 410.7L2030 443.9L2030 470L180 470ZM1201.3 248L1206 247.6L1210 248.1L1214 249.3L1218 251.5L1221 254.3L1223 258L1223.3 261L1222.2 264L1220.2 266L1217 267.8L1210 269.3L1202 268.5L1198 267.1L1194.5 265L1192.3 263L1190.5 260L1190.2 257L1190.8 255L1192.1 253L1195 250.4Z"/>
<path fill="#3eff22" fill-rule="evenodd" d="M180 105L2030 105L2030 334.1L1822 309.9L1816 309.7L1811 310.5L1808 311.9L1802 316L1798 317.2L1794 317.3L1791 316.3L1789.5 315L1786.2 308L1784.1 306L1781 304.7L1775 303.6L1667.6 290L1503 270.2L1493 269.9L1487 270.7L1484.8 272L1483 277L1481 278.4L1478 279L1476 278.3L1474.9 277L1474.3 275L1474.5 271L1473.5 269L1470 266.9L1463 265.2L1329.8 249L1302 246.1L1294 246L1289 246.9L1287 248.1L1282.7 253L1280.1 254L1278 254.1L1276 253.2L1274.9 252L1273.5 247L1272.4 245L1270 243.3L1266.1 242L1188.6 233L1177 232.2L1170 232.7L1165 234.2L1155.7 239L1150 241L1143 242.3L1136 242.2L1132 241.1L1128.9 239L1126.3 236L1122 228.8L1120 226.9L1116 225.1L1110.3 224L876 197.5L867 197.2L861 198.1L858.3 200L857.1 203L855.2 205L851 206.1L849 205.5L847.6 204L846.6 198L845.3 196L841.3 194L836 192.9L653 172.5L646 172.5L641 173.3L638.3 175L635.9 178L634 179.5L631 180.7L628 180.8L626 180.2L624.7 179L623.7 177L622.7 173L621.6 171L619 169.3L614.2 168L469 151.4L456 150.3L448 150.8L444.6 152L438.7 157L436 158L432 158.3L430 157.7L428 156L425.8 150L424.2 148L421 146.4L417 145.5L180 117.9ZM180 233L240.5 239L314 244.6L325 244.6L341 242.3L349 242.1L354 243.1L363 247.6L369 248.9L435 255.6L518 265.6L528 265.6L543 262.4L551 262.1L554 262.7L556.8 264L565 270.6L571 272.2L749 294L757 294.3L762 293.7L765 292.6L773.3 288L777 287.1L781 287L784 287.9L785.5 289L791 297.6L793.6 299L797 299.9L915 314.2L922 314.3L925.9 313L926.7 311L926.4 306L927.1 302L928.5 299L931.5 296L938 293.2L942 292.7L946 292.9L950 293.9L954 295.6L959 299.8L961.1 304L962 312.8L964.2 315L969 316.1L983 317.2L993 318.6L1018 325.3L1025 326.6L1032 327.2L1038 326.5L1041.2 325L1049.2 318L1054.5 315L1061 313.3L1069 313.2L1074 315L1077 318L1078.9 322L1081.3 330L1083 332.5L1087 334.6L1094 336L1168 345L1182 346.2L1190 345.6L1193 344.4L1201 339.9L1205 338.9L1209 338.9L1212 339.7L1213.7 341L1217.8 348L1219.9 350L1223 351.3L1228 352.2L1379 369.6L1389 369.2L1402.6 364L1411 363.3L1414 363.9L1416 365L1423 373.4L1426 374.8L1430 375.7L1695 405.8L1705 406.4L1711 405.9L1715 404.5L1723 399.8L1727 398.9L1731 398.7L1734 399.6L1735.9 401L1741 409.1L1744 410.8L1748 411.7L2030 445L2030 470L180 470ZM1199.7 249L1204 248.3L1209 248.5L1213 249.6L1217 251.6L1220 254.1L1222.3 258L1222.7 261L1221.4 264L1219.4 266L1217 267.4L1210 268.9L1202 268.1L1195.2 265L1191.6 261L1190.8 258L1191.1 256L1194 251.9Z"/>
<path fill="#62ff00" fill-rule="evenodd" d="M180 105L2030 105L2030 333.1L1821 308.8L1814 308.6L1809 309.4L1806 311L1801 315.2L1798 316.3L1794 316.5L1792 315.9L1790 314.2L1787.7 308L1786 305.8L1782.2 304L1776 302.8L1667.1 289L1510.3 270L1494 268.6L1479 268.9L1470 265.7L1461 264L1308 245.6L1295 244.8L1287 245.3L1283.2 247L1281 251.3L1280 252L1278 252.2L1277 251.6L1276.1 250L1275.9 247L1275.1 245L1272.5 243L1267 241.2L1188 232L1176 231.2L1169 231.7L1164 233.3L1155.9 238L1150 240.4L1143 241.7L1136 241.6L1132 240.5L1128.7 238L1126.4 235L1123 228.7L1120.5 226L1117 224.4L1110 223L874 196.4L863 196.1L855.5 197L853.2 198L852.8 199L853.7 202L853 203.3L851 204L850 203.6L849.2 202L850.5 198L849.8 197L844.9 194L838 192.2L658 172L646 171.3L638.6 172L635.3 174L633 178L631 179.2L628 179.5L625.6 178L624.4 172L622.8 170L619 168.1L615 167.2L469 150.5L454 149.2L446 149.6L442.1 151L437.5 156L435 157L432 157.2L430 156.4L428.7 155L427.4 150L426 147.7L423 146L417 144.5L180 117ZM180 233.6L182 233.7L239 239.5L315 245.5L326 245.4L341 242.9L349 242.7L354 243.8L363 248.5L369 249.9L435 256.6L518 266.6L528 266.7L543 263.1L551 262.8L556 264.3L564 271.2L570 273.1L749 295L757 295.5L763 295L767 293.4L773.6 289L777 288L781 287.8L783 288.4L785.3 290L788.2 296L790 298.4L793 300L796 300.8L917 315.4L925 315.4L927 314.9L928.2 314L928.5 312L927.2 306L927.5 303L929.1 299L932 296.2L938 293.6L942 293.1L946 293.3L953 295.5L956 297.4L958.6 300L960.7 305L960.8 314L963 316L967 316.9L982 317.8L992 319.1L1000.1 321L1017 326.2L1026 327.9L1034 328.4L1040 327.5L1043 325.8L1049.4 319L1054.1 316L1061 313.9L1069 313.7L1073 315L1076.3 318L1078.6 323L1080.5 331L1082 333.3L1086 335.5L1093.6 337L1167.7 346L1184 347.4L1192 346.6L1195 345.2L1201.2 341L1205 339.8L1209 339.7L1211 340.2L1213.5 342L1217 349L1219 350.9L1222 352.2L1227 353.2L1380 370.7L1390 370.3L1393 369.4L1402.2 365L1406.7 364L1411 363.9L1414 364.7L1416.1 366L1422 374.1L1425 375.7L1429 376.6L1696 407L1706 407.6L1712.9 407L1716 405.8L1724 400.6L1727 399.7L1731 399.6L1734 400.5L1735.7 402L1740.1 410L1743 411.6L1748 412.8L2030 446.1L2030 470L180 470ZM1202.5 249L1207 248.9L1211 249.5L1215 251.1L1218 253L1220.7 256L1222 259L1221.8 262L1220.7 264L1218.6 266L1216 267.3L1209 268.6L1201 267.4L1197.6 266L1194.6 264L1191.7 260L1191.5 257L1192.2 255L1193.7 253L1196 251.2L1199 249.8ZM1478 274L1479 274.2L1479.5 275L1479 276.2L1477.4 276L1477.1 275Z"/>
<path fill="#92ff00" fill-rule="evenodd" d="M180 105L2030 105L2030 332.2L1819 307.7L1812 307.5L1807 308.1L1804 309.6L1800 314.1L1797 315.3L1794 315.4L1791 313.7L1790.1 312L1789 307L1787.3 305L1783 303.2L1776.7 302L1517.8 270L1499 267.9L1479 266.7L1468 264.2L1460.1 263L1328.1 247L1298 243.9L1279 243.7L1270.6 241L1264 239.8L1187 231L1175 230.2L1168 230.8L1163 232.5L1156 237L1150 239.7L1143 241.2L1136 241.1L1132 239.9L1129 237.6L1126.4 234L1123 227.1L1121 225.1L1117 223.4L1111 222.3L884 196.4L868 195L852 194.5L841.9 192L835 190.9L661 171.4L642 170.2L636 170.5L629 171.8L622.1 168L613 166L469 149.6L453 148.2L443 148.5L438.5 150L436.4 154L435.3 155L432 155.6L430 154L429.3 149L427.6 147L423.5 145L418 143.8L180 116.1ZM628 175L629 174.4L629.7 176L629 176.6L628 176.3ZM180 234.2L182 234.3L238 240L316 246.3L326 246.3L341 243.6L349 243.3L354 244.5L363 249.5L369 250.9L434 257.5L519 267.7L529 267.6L543 263.9L551 263.4L556 265.1L564 272.3L570 274.1L751 296.2L760 296.6L765.3 296L769 294.3L774.4 290L777.2 289L781 288.8L783 289.4L784.8 291L787.2 297L788.7 299L791 300.4L795 301.6L919 316.6L927 316.7L929.9 316L930.8 315L930.5 313L928.4 308L928 304L929.1 300L931.6 297L934.9 295L938 293.9L942 293.4L946 293.6L950 294.5L953.3 296L956.1 298L958.7 301L960.3 306L959.2 315L961 316.9L965 317.7L981 318.4L991 319.7L1000.5 322L1016 327L1025.6 329L1035 329.7L1041 328.9L1044.3 327L1049.8 320L1054 316.9L1061 314.5L1069 314.3L1073 315.6L1076.3 319L1078.2 324L1079.6 332L1081 334.1L1085 336.3L1093 337.9L1167.8 347L1185 348.6L1190 348.5L1194 347.7L1197 346.1L1202 342L1205 340.9L1209 340.6L1211 341.2L1213 343L1215.4 349L1217 351.1L1220.9 353L1226 354L1381 371.8L1391 371.5L1395 370L1403 365.7L1407 364.7L1411 364.6L1414 365.5L1416 366.9L1420 373.6L1422 375.5L1425 376.8L1429 377.6L1695.8 408L1707 408.8L1714 408.3L1718 406.8L1722.3 403L1725 401.4L1728 400.6L1731 400.5L1733 401L1735 402.7L1737.6 409L1739.2 411L1742 412.5L1747 413.6L2030 447.1L2030 470L180 470ZM1200.1 250L1204 249.3L1208 249.5L1212 250.4L1216 252.2L1219 254.7L1220.6 257L1221.5 260L1220.7 263L1219.1 265L1217 266.4L1214 267.5L1210 268.2L1203 267.6L1196.7 265L1194.2 263L1192.8 261L1192.1 259L1192.1 257L1192.9 255L1194.5 253L1197 251.2Z"/>
<path fill="#c2ff00" fill-rule="evenodd" d="M180 105L2030 105L2030 331.4L1817 306.6L1809 306.4L1803 307.2L1800.3 309L1798.1 313L1796 314L1794 314L1791.8 312L1791.2 307L1789.8 305L1785 302.7L1776 301.1L1516.5 269L1480 265.4L1459 262L1335.1 247L1300 243.1L1279 241.9L1264 238.9L1186 230.1L1174 229.3L1166.1 230L1162 231.6L1154.3 237L1150 239L1143 240.6L1136 240.6L1132 239.3L1129.2 237L1127.1 234L1124 226.9L1122 224.6L1118.8 223L1113 221.7L887.6 196L853 193.1L834.1 190L665 171L647 169.3L629 168.7L619 166.1L611.5 165L468 148.7L449 147.1L433 147.4L424 144.1L416 142.7L180 115.4ZM180 235L240 240.8L316 247.1L327 247L341 244.2L349 243.9L354 245.2L363 250.4L369 251.8L434 258.4L519 268.6L530 268.5L543 264.6L551 264L554 264.8L556 265.9L563.2 273L566 274.2L571 275.1L755 297.5L763 297.7L768.1 297L771 295.6L775.8 291L778.7 290L781 290L783 290.8L784 292L785.6 297L787 299.3L789.4 301L794 302.4L921 317.8L929.4 318L933.6 317L934 316L933.6 315L930.2 310L928.9 307L928.7 303L929.7 300L932.3 297L936 294.9L941 293.8L946 293.9L950 294.9L954 296.8L956.7 299L958.8 302L959.6 305L959.6 308L956.8 316L957 317L958.2 318L963 318.9L979 319L989 320.1L997.5 322L1015 327.9L1024 329.8L1035 330.9L1043 330L1046.1 328L1050.3 321L1054 317.9L1060 315.4L1068 314.7L1073 316.3L1076 319.7L1077.6 324L1078.4 332L1080 335L1085 337.4L1094.2 339L1168.3 348L1187 349.7L1196 348.9L1199 347.3L1203.4 343L1206 341.9L1209 341.8L1212 343.6L1214.2 350L1215.9 352L1220 353.8L1226.2 355L1383 373L1389 373L1393 372.4L1396 371.2L1404 366.3L1408 365.4L1411 365.4L1414 366.3L1415.9 368L1418.9 374L1420.7 376L1424 377.6L1428 378.4L1696.3 409L1709 409.9L1717 409.3L1720.2 408L1725.1 403L1728 401.8L1731 401.6L1734 403.3L1736.4 410L1738 411.8L1741 413.3L1746 414.5L2030 448L2030 470L180 470ZM1202.6 250L1207 249.9L1211 250.6L1214.6 252L1217.6 254L1219.4 256L1220.8 259L1220.6 262L1219.4 264L1215 266.8L1208 267.9L1201 266.7L1196 264L1194 262L1192.9 260L1192.6 258L1193 256L1194.3 254L1196.7 252Z"/>
<path fill="#f2ff00" fill-rule="evenodd" d="M180 105L2030 105L2030 330.5L1821 306L1808 305.2L1796 305.6L1786 302L1780 300.8L1671.5 287L1514.9 268L1480 264.3L1462 261.6L1333.4 246L1302 242.5L1279 240.6L1263 238L1186 229.3L1173 228.4L1165.3 229L1161 230.6L1154.2 236L1149 238.6L1143 240L1136 240L1132 238.7L1129.1 236L1127.3 233L1125 226.8L1123 224.1L1119 222.1L1113 220.9L894.6 196L852 191.9L832.2 189L663 170L630 167.3L611 164.2L468.6 148L451 146.3L434 145.5L416 141.9L180 114.6ZM180 235.3L182 235.4L238 241.2L317 247.9L328 247.7L342 244.7L349 244.5L354 245.9L362 250.9L368 252.5L434 259.2L520 269.6L531 269.4L544 265.2L551 264.7L554 265.5L556 266.7L561 272.5L563 274L570.9 276L756 298.5L765 298.9L771.8 298L774 297L778 292.3L781 291.8L782.5 293L783.8 298L785.3 300L788.9 302L793 303.1L924 319L935 319.1L939.1 318L938.6 317L933 312.3L930.5 309L929.3 306L929.4 302L931.8 298L935 295.7L940 294.2L946 294.2L950 295.2L954 297.2L957 300L958.7 303L959.1 307L958 310.8L956 313.9L951.9 318L952.2 319L955.6 320L962 320.4L978 319.8L987 320.5L996 322.5L1010 327.6L1018 329.7L1029 331.5L1039 332L1044 331.4L1047.1 330L1048.6 328L1051.1 322L1055.4 318L1061 315.8L1068 315.3L1072 316.4L1074 317.9L1075.5 320L1077.1 325L1077.3 333L1079 335.9L1083.4 338L1093 339.7L1169.3 349L1189 350.8L1195 350.7L1200 349.7L1202 348.6L1205.7 344L1209 343.5L1210.9 345L1212.1 350L1213.5 352L1217.1 354L1222 355.2L1381 373.7L1389 374.1L1394 373.5L1397.9 372L1402 368.7L1405 367L1411 366.2L1413 366.8L1415 368.3L1418.2 375L1420 376.9L1423 378.3L1427 379.1L1697.2 410L1711 411L1720 410.4L1723.5 409L1727.3 404L1729 403.3L1731 403.2L1733.2 405L1734.3 410L1735.8 412L1739.5 414L1745 415.2L2030 448.9L2030 470L180 470ZM1200.2 251L1204 250.3L1208 250.4L1212 251.4L1215.4 253L1218 255.1L1219.9 258L1220.2 261L1219.5 263L1215.9 266L1210 267.5L1204 267.1L1198 264.9L1195.5 263L1193.9 261L1193.2 259L1193.3 257L1194.2 255L1196 253.1Z"/>
<path fill="#fbf100" fill-rule="evenodd" d="M180 105L2030 105L2030 329.8L1822 305.4L1796 303.5L1779 299.9L1669.7 286L1480 263.4L1331.5 245L1280 239.7L1262 237.1L1186 228.5L1172 227.5L1164 228.1L1159.5 230L1154 235L1149 237.9L1143 239.4L1137 239.6L1133 238.6L1129.8 236L1128 233L1125.6 226L1124 223.7L1120 221.6L1113 220.2L669 169.9L630 166.3L612 163.5L466 147L434 144.2L414.4 141L180 113.9ZM180 236L239 241.9L317 248.6L328 248.5L342 245.4L349 245.1L354 246.6L362 251.8L368 253.3L432 259.8L521 270.5L532 270.3L544 266L551 265.4L555.2 267L560 272.8L562 274.4L566 276L571 276.8L751 298.9L766 300L780 299.4L788.6 303L796 304.5L919 319.4L957 321.9L976 320.8L985 321.1L994.1 323L1007.5 328L1014 329.9L1032 332.7L1042 333L1048 332L1050.3 330L1052.5 322L1055.4 319L1059 317.1L1062 316.3L1068.8 316L1073 317.8L1075.4 321L1076.5 326L1076.1 334L1077.2 336L1081 338.3L1088 339.9L1183 351.4L1195 352L1208 351.2L1216.8 355L1225 356.6L1381 374.6L1390 375.1L1396 374.5L1399.7 373L1404 369L1405.8 368L1411 367.2L1413 367.9L1414.3 369L1416.7 375L1418.2 377L1422 379L1428 380.2L1698.6 411L1716 412.1L1730 411L1738 414.6L1747 416.4L2030 449.8L2030 470L180 470ZM1202.1 251L1206 250.7L1210 251.2L1216 254L1219.3 258L1219.6 261L1218.8 263L1215 265.9L1209 267.2L1203 266.5L1197.3 264L1194.5 261L1193.8 259L1194 256.7L1194.9 255L1197 253ZM937.9 295L943 294.3L948 294.9L952 296.4L956 299.4L958.2 303L958.6 306L957.6 310L955 313.4L950 316.2L944 316.7L938 314.8L933 311.1L930.3 307L929.7 304L930 302L932.3 298L935 296.1Z"/>
<path fill="#fde100" fill-rule="evenodd" d="M180 105L2030 105L2030 329L1822 304.6L1797 302.3L1778 298.9L1665 284.7L1332 244.3L1280 238.8L1185 227.6L1171 226.7L1162 227.4L1158 229.3L1152.4 235L1149.3 237L1143 238.8L1137 239L1133 237.9L1130 235.3L1128.3 232L1126.2 225L1124.7 223L1120.9 221L1114 219.6L673 169.6L630 165.3L612 162.8L467 146.3L434 143.2L415 140.3L180 113.1ZM180 236.5L182 236.6L239 242.5L318 249.4L329 249.2L342 246L349 245.7L353.5 247L362 252.6L368 254.1L432 260.6L521 271.3L528 271.6L533 271.2L537 270.1L544 266.9L548 266.1L551 266.2L555.2 268L559 273L561.1 275L565 276.6L570 277.5L748 299.4L763 300.8L779 301.5L790 304.3L797 305.5L920 320.4L958 323.3L977 321.9L984 322L993.4 324L1005 328.5L1012 330.5L1022 332.4L1033 333.7L1044 334.1L1050.9 333L1052.8 331L1053.1 324L1053.9 322L1055.6 320L1061 317.2L1068 316.5L1072.2 318L1074 319.8L1075.1 322L1075.8 326L1074.6 334L1075.2 336L1079 338.6L1087 340.6L1180 351.9L1207 353.4L1218 356.3L1226 357.5L1382 375.6L1392 376.1L1399 375.3L1402.1 374L1407 369.1L1411 368.5L1413.4 370L1415.5 376L1417.4 378L1422 379.9L1428 381L1695 411.5L1712 413L1730 413.5L1739.3 416L1747 417.2L2030 450.6L2030 470L180 470ZM1200.1 252L1203 251.3L1207 251.2L1211 252L1214 253.2L1216.5 255L1218.2 257L1219.1 260L1218.8 262L1215.9 265L1211 266.7L1205 266.6L1199 264.6L1195.8 262L1194.6 260L1194.3 258L1196 254.5ZM939.1 295L944 294.6L949 295.5L953 297.4L956 300L957.7 303L958.1 306L957.4 309L955 312.3L950 315L944 315.5L938 313.8L933 310.1L930.6 306L930.3 303L930.8 301L932 299L934 297.2Z"/>
<path fill="#fed000" fill-rule="evenodd" d="M180 105L2030 105L2030 328.2L1821 303.6L1797 301.3L1779 298.3L1662 283.5L1332 243.5L1184 226.8L1169 225.8L1160 226.7L1156 228.9L1152 234L1149 236.2L1144 238L1137 238.4L1133 237.2L1130.5 235L1129 232L1127.3 225L1125 222L1121 220.2L1114 218.8L901 194.5L630 164.4L466 145.5L434 142.3L416 139.7L312 127.4L180 112.4ZM180 237.1L182 237.2L231 242.4L319 250.2L330 249.9L342 246.7L349 246.3L353 247.5L361 253.1L367 254.7L430 261.2L522 272.2L529 272.5L534 272.1L538 270.9L545 267.6L551 267L553 267.5L555 268.9L558.5 274L561 276L565 277.5L570 278.3L749 300.4L779 302.9L798 306.4L921 321.3L958 324.5L966 324.5L979 323.2L985 323.5L991.8 325L1002.4 329L1010 331.1L1021 333.1L1034 334.7L1047 335.2L1054.5 334L1055.7 333L1056 332L1054.5 325L1054.9 323L1056.1 321L1061 318L1068 317.2L1071 318L1072.4 319L1074.7 323L1075 327L1072.9 334L1073.1 336L1075 337.9L1077.2 339L1086 341.3L1177 352.4L1207 354.9L1227 358.5L1382 376.4L1394 377L1402 376.3L1405.6 375L1408 371.7L1410 370.7L1411 370.8L1412 371.8L1413.2 376L1416 378.6L1421 380.6L1428 381.8L1695 412.3L1729 414.9L1748 418.2L2030 451.5L2030 470L180 470ZM1201.7 252L1205 251.6L1209 251.9L1215 254.4L1217.6 257L1218.4 259L1218.5 261L1217.5 263L1214 265.5L1209 266.5L1203.7 266L1198.8 264L1195.7 261L1194.9 259L1195.1 257L1197.3 254ZM941 295L946 295.1L950 296.2L953.3 298L956 300.6L957.5 304L957.4 307L956.1 310L954 312.2L949 314.4L943 314.5L937 312.4L932.8 309L930.9 305L931 302L931.8 300L935 296.9Z"/>
<path fill="#ffc000" fill-rule="evenodd" d="M180 105L2030 105L2030 327.4L1797 300.3L1779 297.4L1670 283.6L1331 242.6L1182 225.7L1168 224.9L1159 225.7L1155 227.6L1151.3 233L1147.6 236L1143 237.5L1137 237.8L1133 236.5L1130.7 234L1129.4 231L1128.4 225L1126.6 222L1122 219.6L1113 217.8L434 141.3L311 126.5L180 111.5ZM180 238L318 250.9L330 250.7L343 247.2L349 247L353 248.2L361 254L367 255.6L429.6 262L522 273.1L529 273.4L535 273L539 271.9L546 268.4L551 267.9L554 269.3L558 274.9L560 276.5L564 278.1L570 279.2L749 301.2L778.5 304L798 307.3L922 322.3L959 325.7L984 325.1L989 326.1L1001.2 330L1010 332.1L1034 335.6L1050 336.3L1055 336L1059.7 335L1060.7 334L1056.5 327L1056.1 325L1056.4 323L1057.7 321L1060.7 319L1064 318.1L1068 317.9L1072 319.6L1073.1 321L1074.2 324L1073.9 328L1070.5 334L1070.2 336L1072.4 338L1076 339.7L1086 342.2L1177 353.3L1206.5 356L1227 359.4L1374 376.5L1393 378L1410 377.6L1420 381.3L1432 383.2L1687 412.3L1729 416.1L1749 419.2L2030 452.4L2030 470L180 470ZM1204.6 252L1210 252.6L1215 255L1217 257L1217.9 259L1217.9 261L1216.9 263L1213 265.4L1208 266.2L1202 265.1L1198 262.9L1195.8 260L1195.5 258L1196.2 256L1198 254.1L1200 253ZM937.8 296L942 295.2L946 295.4L950 296.5L954 298.9L955.8 301L957 304L956.9 307L955.4 310L952 312.6L946 314L940 313.1L935 310.4L933 308.3L931.7 306L931.5 302L932.3 300L934 298.1Z"/>
<path fill="#ffb200" fill-rule="evenodd" d="M180 105L2030 105L2030 326.4L1795.7 299L1780 296.5L1670 282.6L1331 241.6L1182 224.7L1167 224L1157 224.9L1153 227L1150 232.5L1147.4 235L1142 236.9L1137 237L1134 236.2L1131.6 234L1130.3 231L1129.3 224L1127.1 221L1121 218.3L1112 216.7L433 140.2L311 125.5L180 110.6ZM180 239L183 238.9L227 243.6L317 251.8L330 251.6L335 250.6L343 248L349 247.6L353 249.1L360 254.5L367 256.6L429.5 263L522 274.1L530 274.5L537 273.8L541 272.5L547 269.4L550.7 269L553.1 270L557 275.4L561 278.2L566 279.6L579 281.4L750 302.4L777 305L798 308.3L922 323.4L955 326.6L984 327.3L1010 333.3L1024 335.5L1043 337.3L1066 337.5L1078 341.5L1088 343.5L1177 354.3L1205 357L1221 359.6L1243 362.4L1381 378.3L1394 379.2L1409 379.4L1421 382.7L1433 384.4L1687 413.4L1729 417.3L1749 420.3L2030 453.4L2030 470L180 470ZM1201.4 253L1207 252.4L1213 254.2L1215.5 256L1216.9 258L1217.4 260L1216.9 262L1214 264.6L1210 265.7L1205 265.6L1200 263.8L1196.8 261L1196.1 258L1197.7 255ZM938.9 296L943 295.5L947 295.9L950.4 297L953.6 299L955.4 301L956.6 304L956.4 307L954.6 310L951 312.4L945 313.4L940 312.5L935 309.7L932.3 306L932 302L932.8 300L934.7 298ZM1063.8 319L1067 318.7L1070 319.3L1072 320.8L1073 322.6L1073.4 325L1072.8 328L1071 330.8L1069 332.2L1066 332.5L1063 331.4L1059.9 329L1057.9 326L1057.7 324L1058.5 322L1060.9 320Z"/>
<path fill="#ffa200" fill-rule="evenodd" d="M180 105L2030 105L2030 324.9L1799.7 298L1775 294.4L1672 281.4L1334 240.4L1184 223.5L1168 222.7L1155 223.9L1151 226L1148.6 232L1146.8 234L1142 235.9L1137 236.1L1134 235.1L1132 232.9L1131.1 230L1130.7 224L1129 221L1127 219.5L1122 217.3L1113 215.3L435.3 139L306 123.4L180 109.1ZM180 240L232 245.5L317 253.2L323 253.3L331 252.5L343 248.8L349 248.4L353 250L358 254.4L361 256.2L364 257.4L369 258.4L433.8 265L520 275.5L529 275.8L537 275.1L541 274.2L547.3 271L550 270.5L552 271.1L556 276.2L561 279.6L567 281.3L576 282.6L747 303.6L780 306.9L796 309.6L919 324.6L952 327.9L983 329.2L1021 336.6L1038 338.4L1066 339.5L1080 343.5L1091 345.4L1175 355.7L1208.6 359L1223 361.5L1240 363.6L1379 379.6L1390 380.5L1409 381L1422 384.4L1430 385.6L1684 414.6L1730.5 419L1747 421.6L2030 454.9L2030 470L180 470ZM1203.2 253L1209 253.2L1213.5 255L1216.3 258L1216.8 260L1216.3 262L1214 264.1L1209 265.4L1204 265L1199.4 263L1196.9 260L1196.9 257L1199 254.6ZM940.3 296L944 295.8L948 296.4L951.6 298L954.1 300L955.5 302L956.2 305L955.4 308L954 309.9L950 312.2L945 312.9L939 311.6L935 309L932.5 305L932.8 301L935.3 298ZM1064.2 320L1069 320L1070.7 321L1072 322.8L1072.3 325L1072 327L1071 328.6L1069 330.1L1067 330.4L1064 329.6L1061.5 328L1059.9 326L1059.5 324L1060.4 322Z"/>
<path fill="#ff8400" fill-rule="evenodd" d="M1130.1 211L1137 210.1L1147 211.5L1160 215.4L1164 217.2L1166.1 219L1165.6 220L1164 220.4L1153 222.2L1150 223.3L1148.2 225L1146.7 231L1145.2 233L1142 234.4L1137 234.6L1135 234L1133 231.4L1132.6 224L1131.6 221L1124.4 215L1124.5 214L1125.5 213ZM342.3 250L348 249.1L352 250.4L360.3 258L361.1 260L360.6 261L358 263.1L355 264.7L351 265.7L347 265.7L340 264.4L334 262.4L328 259.3L325.4 257L325.6 256L327.3 255L336 252.6ZM1201.2 254L1207 253.3L1212.6 255L1215.7 258L1216.2 260L1215.6 262L1213 264.1L1209 265.1L1205 264.9L1201 263.5L1198 261L1197.3 258L1198.2 256ZM549 273.2L551 273.5L558.5 281L558.9 282L558.5 283L554 284.9L547 284.7L538 282.4L534 280.5L532.7 279L533.8 278L543 275.6ZM937.9 297L941 296.2L945 296.1L949 297.1L952 298.6L954.5 301L955.5 303L955.6 306L954.8 308L952 310.7L947 312.3L942 312L937 310L933.9 307L932.8 303L934 299.8ZM1063.5 322L1067 321.3L1069.4 322L1070.6 324L1070 326.8L1069 327.7L1067 328.1L1063.9 327L1062.7 326L1061.9 324ZM975.3 332L982.9 332L991.3 334L990 334.9L982 334.4L975.4 333ZM1052.5 342L1058 341.4L1067 342L1070.5 343L1072.3 344L1072.9 345L1072 345.8L1070 346.4L1064 346.2L1054.3 344L1052.2 343Z"/>
<path fill="#ff6400" fill-rule="evenodd" d="M342.9 251L347 250.1L351 251L354.8 255L355.7 257L355.5 258L353 259.4L348 259.8L342 258.8L338 257L337 256L337.1 255L339.3 253ZM1202.7 254L1208 253.8L1213 255.8L1215.5 259L1214.9 262L1212.1 264L1209 264.7L1205 264.5L1201 263L1198.7 261L1197.9 258L1199 256ZM938.8 297L942 296.4L946 296.5L949 297.4L952 299L954 301L955 303L955.1 306L954.2 308L951 310.7L947 311.8L942 311.5L937 309.4L934 306.2L933.3 303L933.8 301L935 299.3Z"/>
<path fill="#ff4300" fill-rule="evenodd" d="M347 251.6L349.5 252L350.8 253L351.2 255L348 255.9L344.4 255L343.4 254L343.7 253ZM1201.3 255L1206 254L1211 255.2L1214.4 258L1214.8 261L1213.1 263L1210 264.2L1206 264.3L1202 263.1L1199.3 261L1198.5 259L1198.9 257ZM939.9 297L946 296.8L949 297.7L952 299.4L954.2 302L954.8 304L954.6 306L953.6 308L950 310.6L946 311.5L941 310.8L937 308.9L934.4 306L933.8 304L933.9 302L935.8 299Z"/>
<path fill="#fe2500" fill-rule="evenodd" d="M1202.6 255L1207 254.5L1211 255.7L1213.7 258L1214.1 261L1212.1 263L1209 263.9L1205 263.7L1202 262.6L1200 261L1199.1 259L1200 256.6ZM941.5 297L945 297L948 297.6L950.9 299L953 300.9L954.1 303L954.3 305L953.7 307L952 309L948 310.8L944 311L939 309.6L935.6 307L934.3 304L934.7 301L937 298.6Z"/>
<path fill="#fb0d00" fill-rule="evenodd" d="M1204.9 255L1209 255.4L1212.1 257L1213.5 259L1213 261.5L1211 262.9L1208 263.5L1205 263.3L1201.9 262L1200.1 260L1199.9 258L1201.7 256ZM938.8 298L942 297.2L945 297.3L950.3 299L952.6 301L953.7 303L953.8 305L953.1 307L951 309.1L947 310.5L942 310.2L938 308.5L935.5 306L934.7 303L935.9 300Z"/>
<path fill="#f20000" fill-rule="evenodd" d="M1203 256L1206 255.5L1210 256.3L1212.2 258L1212.9 260L1212.5 261L1211 262.3L1208.8 263L1206 263L1203 262L1201.6 261L1200.6 259L1201.4 257ZM939.8 298L943 297.5L946 297.7L951 299.9L953.2 303L953.3 305L952.6 307L950 309.2L946 310.2L942 309.8L938 308L935.5 305L935.3 302L937 299.5Z"/>
<path fill="#e40000" fill-rule="evenodd" d="M1205.5 256L1209 256.5L1211 257.7L1211.9 259L1211.6 261L1210 262.1L1207 262.6L1204.2 262L1202.5 261L1201.7 260L1201.6 258L1203 256.7ZM941.1 298L946 298L950.5 300L952.7 303L952.9 305L952 307L949.3 309L946 309.8L942 309.4L938 307.5L936 305L935.8 302L938 299.2Z"/>
</g></g>
<g clip-path="url(#hmclip)">
<polygon points="230,160.7 270,165 380,177.8 480,191 580,202.5 640,211.5 720,222 820,232.5 880,239 910,244 940,253 970,253 1020,258.5 1080,263 1120,268.5 1160,272.5 1180,281 1220,283 1320,290.7 1380,297.7 1460,305.5 1520,313 1580,321.5 1660,330.5 1690,342 1720,343 1740,339.5 1820,348.5 1900,357.5 1985,367 2020,371 2000,403.5 1960,399 1900,391.8 1820,382.8 1740,372.3 1660,362.3 1580,353.3 1520,347 1460,340.2 1380,331.2 1320,323 1300,315.5 1260,314.3 1220,312.3 1160,306.3 1120,297.5 1080,292 1020,287.5 970,283.2 920,277.2 820,267 720,255.5 640,245.8 580,236.5 480,223 380,213.1 240,199.1 200,194.7" fill="#2e2e9c"/>
<path d="M230 155.7L270 160L380 172.8L480 186L580 197.5L640 206.5L720 217L820 227.5L880 234L910 239L940 248L970 248L1020 253.5L1080 258L1120 263.5L1160 267.5L1180 276L1220 278L1320 285.7L1380 292.7L1460 300.5L1520 308L1580 316.5L1660 325.5L1690 337L1720 338L1740 334.5L1820 343.5L1900 352.5L1985 362L2020 366" stroke="#3838a6" stroke-width="2" stroke-dasharray="7 17" fill="none" filter="url(#soft)"/>
<path d="M200 198.7L240 203.1L380 217.1L480 227L580 240.5L640 249.8L720 259.5L820 271L920 281.2L970 287.2L1020 291.5L1080 296L1120 301.5L1160 310.3L1220 316.3L1260 318.3L1300 319.5L1320 327L1380 335.2L1460 344.2L1520 351L1580 357.3L1660 366.3L1740 376.3L1820 386.8L1900 395.8L1960 403L2000 407.5" stroke="#3838a6" stroke-width="2" stroke-dasharray="7 17" fill="none" filter="url(#soft)"/>
</g>
<ellipse cx="944.4" cy="302.9" rx="6.5" ry="4" fill="#a80000" filter="url(#soft2)" transform="rotate(6 944.4 302.9)"/>
<polygon points="932,319 992,326 988,338 926,331" fill="url(#redg)" filter="url(#soft)"/>
</g>
<g id="guides" stroke="#000" fill="none" filter="url(#soft)">
<path d="M185.5 582L181.5 62" stroke-width="4.5" stroke-dasharray="6.6 4.8"/>
<path d="M236 262L236 541" stroke-width="4.5" stroke-dasharray="6.6 4.8"/>
<path d="M292.5 262L292.5 485" stroke-width="4.5" stroke-dasharray="6.6 4.8"/>
<path d="M334.6 266L334.6 437" stroke-width="4.5" stroke-dasharray="6.6 4.8"/>
<path d="M1913 458L1903 793" stroke-width="4.5" stroke-dasharray="6.6 4.8"/>
<path d="M1957.5 407L1952.5 712" stroke-width="4.5" stroke-dasharray="6.6 4.8"/>
<path d="M2001.5 345L2001.5 645" stroke-width="4.5" stroke-dasharray="6.6 4.8"/>
<path d="M186 244.3L1913 456.2L1972 463.5" stroke-width="3.8" stroke-dasharray="7.6 7.2"/>
<path d="M185.5 242.5L338 89" stroke-width="4" stroke-dasharray="7.2 5.3"/>
<path d="M1867.2 510.5L1913.5 454L2018.3 314.5L2057 262" stroke-width="4" stroke-dasharray="7.2 5.3"/>
</g>
<g id="arrowheads" fill="#000" filter="url(#soft)">
<polygon points="181.3,34 167.5,63.5 195.5,63.5"/>
<polygon points="352.8,71 319.5,88 340.5,101.5"/>
<polygon points="2073.5,240.5 2042,259.5 2064.5,272"/>
<polygon points="2009.5,467.5 1970,453.5 1968,472.5"/>
</g>
<g id="dots" fill="#ff0000" filter="url(#soft)">
<ellipse cx="449.3" cy="467.2" rx="22" ry="17.3"/>
<ellipse cx="365.2" cy="556.3" rx="22" ry="17.3"/>
<ellipse cx="640" cy="491" rx="22" ry="17.3"/>
<ellipse cx="562.5" cy="578" rx="22" ry="17.3"/>
<ellipse cx="862" cy="517.5" rx="22" ry="17.3"/>
<ellipse cx="788.6" cy="601.3" rx="22" ry="17.3"/>
<ellipse cx="1140" cy="550.8" rx="22" ry="17.3"/>
<ellipse cx="1070.5" cy="634" rx="22" ry="17.3"/>
<ellipse cx="1281.6" cy="568.7" rx="22" ry="17.3"/>
<ellipse cx="1213" cy="652.5" rx="22" ry="17.3"/>
<ellipse cx="1479" cy="593" rx="22" ry="17.3"/>
<ellipse cx="1410.9" cy="679.5" rx="22" ry="17.3"/>
<ellipse cx="1790" cy="628" rx="22" ry="17.3"/>
<ellipse cx="1729.5" cy="718" rx="22" ry="17.3"/>
</g>
<g id="vehicles">
<polygon points="945.3,618.6 1036.1,629.7 992.9,678.4 898.7,669.5" fill="#222222" filter="url(#soft)"/>
<g fill="none" stroke="#8a8af0" stroke-width="1.1" filter="url(#soft0)"><path d="M940 531.5Q958 526 977 532.5"/><path d="M962 597Q977 603 977.5 620"/><path d="M1283 630.5Q1297 633 1299 646"/></g>
<g filter="url(#soft)">
<g transform="translate(952.6 548.2) rotate(0.5) scale(1 1)"><path d="M0 -14.4 C-19.8 -14.4 -37.4 -7.9 -44 0 C-37.4 7.9 -19.8 14.4 0 14.4 Z" fill="#dcdcdc" stroke="#2a2a2a" stroke-width="2"/><path d="M0 0L-44 0M-18.5 -13.4L-18.5 13.4" stroke="#666" stroke-width="1.2" fill="none"/><rect x="0" y="-14.4" width="64.3" height="28.8" fill="#000"/></g><path d="M908.6 547.8L891.5 548.2" stroke="#1a1a1a" stroke-width="1.8" fill="none"/><polygon points="875.5,548.6 891.3,541.7 891.6,554.7" fill="#000"/>
<g transform="translate(936.4 599.5) rotate(0.5) scale(-1 1)"><path d="M0 -11.3 C-18.9 -11.3 -35.7 -6.2 -42 0 C-35.7 6.2 -18.9 11.3 0 11.3 Z" fill="#dcdcdc" stroke="#2a2a2a" stroke-width="2"/><path d="M0 0L-42 0M-17.6 -10.5L-17.6 10.5" stroke="#666" stroke-width="1.2" fill="none"/><rect x="0" y="-11.3" width="51.4" height="22.6" fill="#000"/></g><path d="M978.4 599.9L989.2 598.3" stroke="#1a1a1a" stroke-width="1.8" fill="none"/><polygon points="1005,596 990.1,604.7 988.2,591.9" fill="#000"/>
<g transform="translate(1204.5 571) rotate(-14) scale(1 1)"><path d="M0 -7.8 C-20.7 -7.8 -39.1 -4.3 -46 0 C-39.1 4.3 -20.7 7.8 0 7.8 Z" fill="#dcdcdc" stroke="#2a2a2a" stroke-width="2"/><path d="M0 0L-46 0M-19.3 -7.2L-19.3 7.2" stroke="#666" stroke-width="1.2" fill="none"/><rect x="0" y="-7.8" width="36" height="15.5" fill="#000"/></g><path d="M1159.9 582.1L1150.3 583.6" stroke="#1a1a1a" stroke-width="1.8" fill="none"/><polygon points="1134.5,586 1149.3,577.2 1151.3,590" fill="#000"/>
<g transform="translate(1295.6 646) rotate(2) scale(-1 1)"><path d="M0 -14.5 C-19.4 -14.5 -36.5 -8 -43 0 C-36.5 8 -19.4 14.5 0 14.5 Z" fill="#f2f2f2" stroke="#2a2a2a" stroke-width="2"/><path d="M0 0L-43 0M-18.1 -13.5L-18.1 13.5" stroke="#666" stroke-width="1.2" fill="none"/><rect x="0" y="-14.5" width="43" height="29" fill="#000"/></g><path d="M1338.6 647.5L1382.1 651.2" stroke="#1a1a1a" stroke-width="1.8" fill="none"/><polygon points="1398,652.5 1381.5,657.6 1382.6,644.7" fill="#000"/>
<g transform="translate(1669.7 635) rotate(4.5) scale(1 1)"><path d="M0 -16.5 C-18.9 -16.5 -35.7 -9.1 -42 0 C-35.7 9.1 -18.9 16.5 0 16.5 Z" fill="#f2f2f2" stroke="#2a2a2a" stroke-width="2"/><path d="M0 0L-42 0M-17.6 -15.3L-17.6 15.3" stroke="#666" stroke-width="1.2" fill="none"/><rect x="0" y="-16.5" width="68" height="33" fill="#000"/></g><path d="M1627.8 631.7L1593.6 622.3" stroke="#1a1a1a" stroke-width="1.8" fill="none"/><polygon points="1578.2,618 1595.4,616 1591.9,628.5" fill="#000"/>
</g>
<g fill="#9a9a9a" opacity="0.55" filter="url(#soft2)">
<rect x="953" y="575" width="64" height="6"/>
<rect x="885" y="624" width="46" height="6"/>
<rect x="1252" y="676" width="44" height="5"/>
<polygon points="1680,676 1736,664 1737,680"/>
<polygon points="1190,575 1228,578 1226,590 1185,586"/>
</g>
</g>
<g id="colourbar">
<rect x="2149.5" y="304" width="43" height="488" fill="url(#cbar)" filter="url(#soft)"/>
<rect x="2149.5" y="304" width="43" height="488" fill="none" stroke="#6a6a6a" stroke-width="0.9"/>
<path d="M2192 352.8h3.5" stroke="#555" stroke-width="1.2"/>
<path d="M2192 401.6h3.5" stroke="#555" stroke-width="1.2"/>
<path d="M2192 450.4h3.5" stroke="#555" stroke-width="1.2"/>
<path d="M2192 499.2h3.5" stroke="#555" stroke-width="1.2"/>
<path d="M2192 548h3.5" stroke="#555" stroke-width="1.2"/>
<path d="M2192 596.8h3.5" stroke="#555" stroke-width="1.2"/>
<path d="M2192 645.6h3.5" stroke="#555" stroke-width="1.2"/>
<path d="M2192 694.4h3.5" stroke="#555" stroke-width="1.2"/>
<path d="M2192 743.2h3.5" stroke="#555" stroke-width="1.2"/>
</g>
<g id="labels" filter="url(#soft0)">
<text transform="translate(0 108) scale(1.5 1)" font-size="63"><tspan x="18.6" font-size="64">|</tspan><tspan x="30" class="tb ti">E</tspan><tspan x="68.7" class="tb ti" font-size="36.5">T</tspan><tspan x="88" font-size="64">|</tspan></text>
<text class="tb" transform="translate(135.5 268.5) rotate(0) scale(1.42 1)" font-size="43" >0</text>
<text class="tb" transform="translate(145.5 629.5) rotate(0) scale(1.42 1)" font-size="45" >0</text>
<text class="ti" transform="translate(489 316) rotate(8) scale(1.28 1)" font-size="37" >500</text>
<text class="ti" transform="translate(692 352.5) rotate(8) scale(1.28 1)" font-size="37" >1000</text>
<text class="ti" transform="translate(977 386) rotate(8) scale(1.28 1)" font-size="37" >1500</text>
<text class="ti" transform="translate(1300 425.5) rotate(8) scale(1.28 1)" font-size="37" >2000</text>
<text class="ti" transform="translate(1623 468.5) rotate(8) scale(1.28 1)" font-size="37" >2500</text>
<text class="ti" transform="translate(408.5 658.5) rotate(8) scale(1.28 1)" font-size="37" >500</text>
<text class="ti" transform="translate(700 698.5) rotate(8) scale(1.28 1)" font-size="37" >1000</text>
<text class="ti" transform="translate(962 737.5) rotate(8) scale(1.28 1)" font-size="37" >1500</text>
<text class="ti" transform="translate(1252 774.5) rotate(8) scale(1.28 1)" font-size="37" >2000</text>
<text class="ti" transform="translate(1547 812) rotate(8) scale(1.28 1)" font-size="37" >2500</text>
<text class="ti" transform="translate(1829 850) rotate(8) scale(1.26 1)" font-size="48" >3000</text>
<text class="ti" transform="translate(2012 359) rotate(12) scale(1.2 1)" font-size="32" >400</text>
<text class="ti" transform="translate(1961 410) rotate(10) scale(1.3 1)" font-size="32" >200</text>
<text class="ti" transform="translate(2028 662) rotate(12) scale(1.22 1)" font-size="32" >400</text>
<text class="ti" transform="translate(1975 732.5) rotate(10) scale(1.3 1)" font-size="32" >200</text>
<text class="tb" transform="translate(928 807) rotate(10) scale(1.4 1)" font-size="58" stroke="#000" stroke-width="0.8">x/m</text>
<text class="tb" transform="translate(2049 799) rotate(-46) scale(1.3 1)" font-size="55" stroke="#000" stroke-width="0.8">y/m</text>
<text class="tb" transform="translate(2251 346.5) rotate(0) scale(1.3 1)" font-size="45.5" letter-spacing="2" stroke="#000" stroke-width="0.7">Large</text>
<text class="tb" transform="translate(2254 792) rotate(0) scale(1.28 1)" font-size="45.5" letter-spacing="2" stroke="#000" stroke-width="0.7">Small</text>
</g>
</svg>
</body></html>
